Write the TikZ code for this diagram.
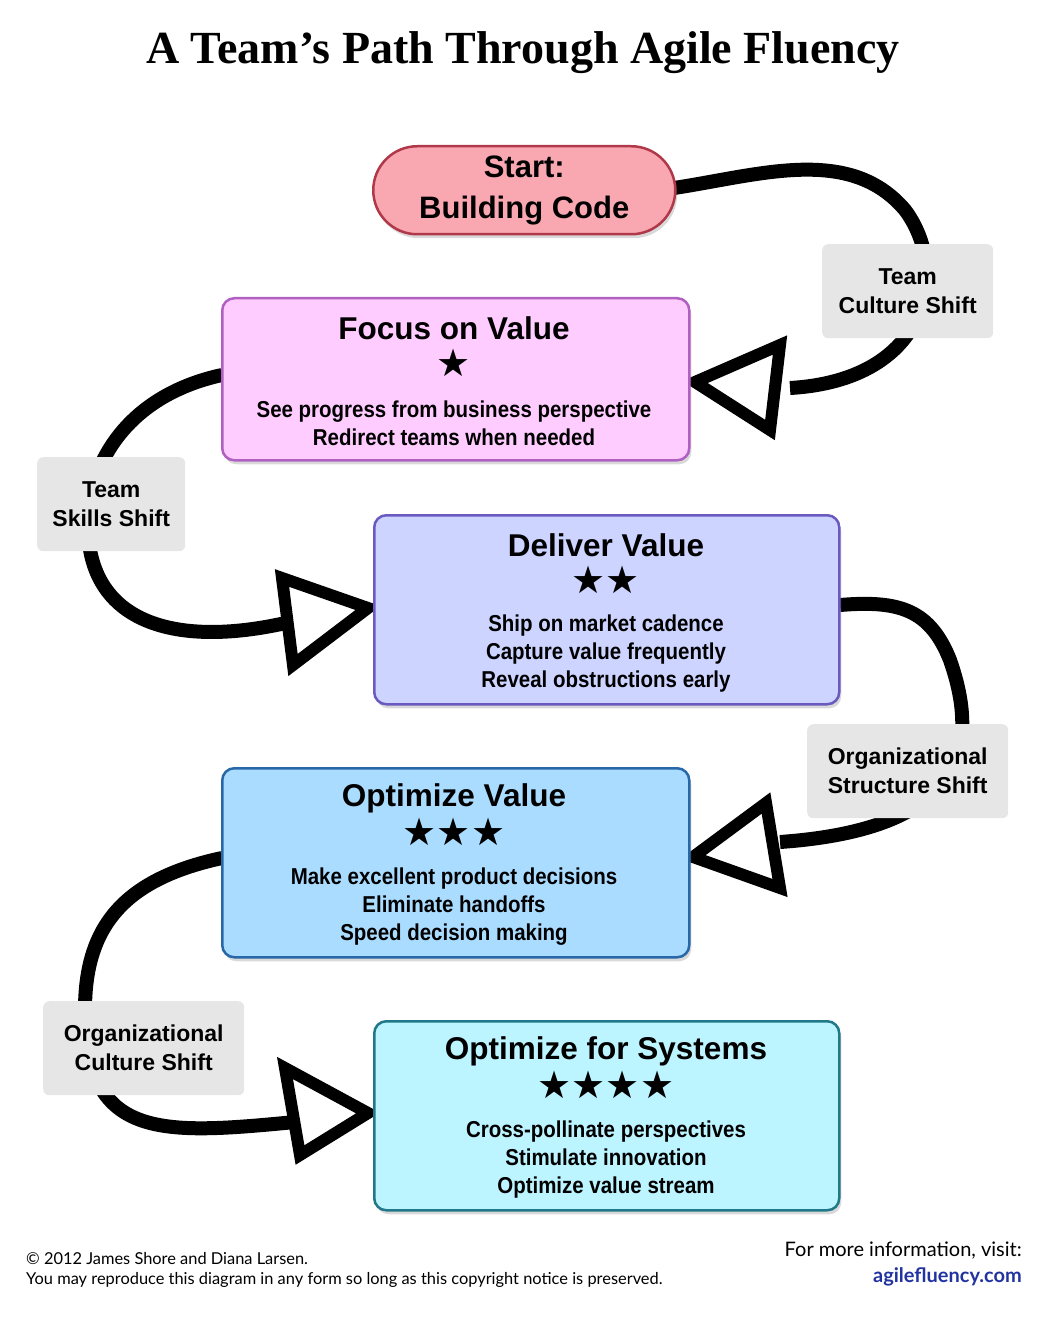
\documentclass[tikz,border=0pt]{standalone}
\usepackage{fontspec}
\setmainfont{Liberation Sans}
\newfontfamily\cond[FakeStretch=0.89]{Liberation Sans}
\newfontfamily\titlef{Liberation Serif}
\newfontfamily\footf{Lato}
\newfontfamily\symf{DejaVu Sans}
\usetikzlibrary{shadows}
\definecolor{startf}{HTML}{F9A8B2}\definecolor{startd}{HTML}{B03848}
\definecolor{focf}{HTML}{FFCCFF}\definecolor{focd}{HTML}{B060C0}
\definecolor{delf}{HTML}{CCD4FF}\definecolor{deld}{HTML}{6A5AC0}
\definecolor{ovf}{HTML}{AADCFF}\definecolor{ovd}{HTML}{2868A8}
\definecolor{osf}{HTML}{BCF4FF}\definecolor{osd}{HTML}{207888}
\definecolor{lab}{HTML}{E6E6E6}\definecolor{link}{HTML}{2233A0}
\begin{document}
\begin{tikzpicture}[x=1pt,y=-1pt,
  box/.style={draw, line width=2.5pt, rounded corners=12pt, anchor=north west, drop shadow={shadow xshift=2pt,shadow yshift=-4pt,opacity=0.3}},
  lab/.style={fill=lab, rounded corners=6pt, anchor=north west, font=\bfseries\fontsize{23}{29}\selectfont, align=center, inner sep=0pt},
  path/.style={line width=14pt, line cap=butt},
  tri/.style={draw, fill=white, line width=12pt, line join=miter},
  head/.style={font=\bfseries\fontsize{31.5}{34}\selectfont},
  body/.style={font=\cond\bfseries\fontsize{23}{28}\selectfont, align=center},
  star/.style={font=\symf\fontsize{38}{38}\selectfont}]
\useasboundingbox (0,0) rectangle (1046,1337);
\node[font=\titlef\bfseries\fontsize{46}{50}\selectfont] (title) at (523,53) {A Team’s Path Through Agile Fluency};

% curves
\coordinate (s1) at (674,188);
\coordinate (t1) at (695,382);
\draw[path] (s1) .. controls (760,175) and (850,145) .. (905,210) .. controls (950,270) and (930,380) .. (790,388);
\draw[tri] (t1) -- (780,345) -- (770,430) -- cycle;

\coordinate (s2) at (222,375);
\coordinate (t2) at (368,608);
\draw[path] (s2) .. controls (130,395) and (90,460) .. (88,520) .. controls (85,620) and (170,650) .. (290,622);
\draw[tri] (t2) -- (282,578) -- (293,665) -- cycle;

\coordinate (s3) at (840,605);
\coordinate (t3) at (693,857);
\draw[path] (s3) .. controls (900,600) and (930,610) .. (950,660) .. controls (985,760) and (950,830) .. (780,842);
\draw[tri] (t3) -- (766,803) -- (780,888) -- cycle;

\coordinate (s4) at (222,858);
\coordinate (t4) at (368,1113);
\draw[path] (s4) .. controls (120,880) and (85,930) .. (85,1010) .. controls (85,1140) and (160,1135) .. (295,1122);
\draw[tri] (t4) -- (285,1068) -- (300,1155) -- cycle;

% boxes
\node[box, fill=startf, draw=startd, minimum width=302pt, minimum height=88pt, rounded corners=44pt] (start) at (372,145) {};
\node[align=center, font=\bfseries\fontsize{31}{41}\selectfont] at (start.center) {Start:\\Building Code};

\node[box, fill=focf, draw=focd, minimum width=467pt, minimum height=162pt] (focus) at (221,297) {};
\node[head] at (454,328) {Focus on Value};
\node[star] at (454,363) {★};
\node[body] at (454,423) {See progress from business perspective\\Redirect teams when needed};

\node[box, fill=delf, draw=deld, minimum width=465pt, minimum height=189pt] (deliver) at (373,514) {};
\node[head] at (606,545) {Deliver Value};
\node[star] at (606,580) {★★};
\node[body] at (606,654) {Ship on market cadence\\Capture value frequently\\Reveal obstructions early};

\node[box, fill=ovf, draw=ovd, minimum width=467pt, minimum height=189pt] (optv) at (221,767) {};
\node[head] at (454,798) {Optimize Value};
\node[star] at (454,832) {★★★};
\node[body] at (454,907) {Make excellent product decisions\\Eliminate handoffs\\Speed decision making};

\node[box, fill=osf, draw=osd, minimum width=465pt, minimum height=189pt] (opts) at (373,1020) {};
\node[head] at (606,1051) {Optimize for Systems};
\node[star] at (606,1085) {★★★★};
\node[body] at (606,1160) {Cross-pollinate perspectives\\Stimulate innovation\\Optimize value stream};

% labels
\node[lab, minimum width=171pt, minimum height=94pt] (l1) at (822,244) {Team\\Culture Shift};
\node[lab, minimum width=148pt, minimum height=94pt] (l2) at (37,457) {Team\\Skills Shift};
\node[lab, minimum width=201pt, minimum height=94pt] (l3) at (807,724) {Organizational\\Structure Shift};
\node[lab, minimum width=201pt, minimum height=94pt] (l4) at (43,1001) {Organizational\\Culture Shift};

% footer
\node[font=\footf\fontsize{16.4}{20}\selectfont, align=left, anchor=north west, inner sep=0pt] (copy) at (26,1252) {© 2012 James Shore and Diana Larsen.\\You may reproduce this diagram in any form so long as this copyright notice is preserved.};
\node[font=\footf\fontsize{20}{26}\selectfont, align=right, anchor=north east, inner sep=0pt] (more) at (1022,1242) {For more information, visit:\\\textcolor{link}{\bfseries agilefluency.com}};
\end{tikzpicture}
\end{document}
